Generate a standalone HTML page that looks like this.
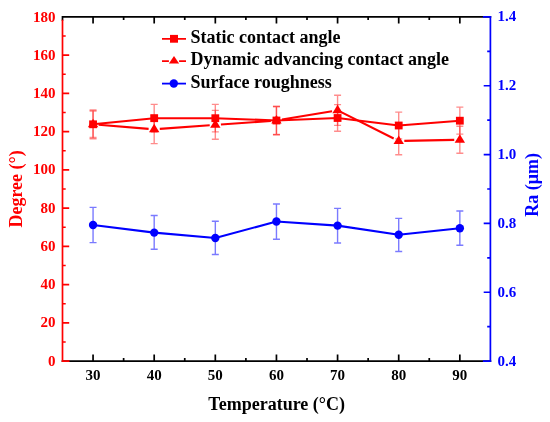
<!DOCTYPE html>
<html><head><meta charset="utf-8"><style>
html,body{margin:0;padding:0;background:#fff;width:550px;height:422px;overflow:hidden;position:relative}
</style></head><body>
<svg width="550" height="422" viewBox="0 0 550 422" style="position:absolute;left:0;top:0">
<rect width="550" height="422" fill="#fff"/>
<path d="M93.06 207.40V242.60M89.56 207.40H96.56M89.56 242.60H96.56" stroke="rgba(0,0,255,0.52)" stroke-width="1.4" fill="none"/>
<path d="M93.06 111.00V137.50M89.56 111.00H96.56M89.56 137.50H96.56" stroke="rgba(255,0,0,0.45)" stroke-width="1.4" fill="none"/>
<path d="M93.06 110.00V138.80M89.56 110.00H96.56M89.56 138.80H96.56" stroke="rgba(255,0,0,0.45)" stroke-width="1.4" fill="none"/>
<path d="M154.19 215.50V249.20M150.69 215.50H157.69M150.69 249.20H157.69" stroke="rgba(0,0,255,0.52)" stroke-width="1.4" fill="none"/>
<path d="M154.19 104.40V132.00M150.69 104.40H157.69M150.69 132.00H157.69" stroke="rgba(255,0,0,0.45)" stroke-width="1.4" fill="none"/>
<path d="M154.19 115.00V143.60M150.69 115.00H157.69M150.69 143.60H157.69" stroke="rgba(255,0,0,0.45)" stroke-width="1.4" fill="none"/>
<path d="M215.32 221.30V254.50M211.82 221.30H218.82M211.82 254.50H218.82" stroke="rgba(0,0,255,0.52)" stroke-width="1.4" fill="none"/>
<path d="M215.32 104.40V131.90M211.82 104.40H218.82M211.82 131.90H218.82" stroke="rgba(255,0,0,0.45)" stroke-width="1.4" fill="none"/>
<path d="M215.32 110.40V139.30M211.82 110.40H218.82M211.82 139.30H218.82" stroke="rgba(255,0,0,0.45)" stroke-width="1.4" fill="none"/>
<path d="M276.45 204.00V239.20M272.95 204.00H279.95M272.95 239.20H279.95" stroke="rgba(0,0,255,0.52)" stroke-width="1.4" fill="none"/>
<path d="M276.45 106.50V134.50M272.95 106.50H279.95M272.95 134.50H279.95" stroke="rgba(255,0,0,0.45)" stroke-width="1.4" fill="none"/>
<path d="M276.45 106.50V134.80M272.95 106.50H279.95M272.95 134.80H279.95" stroke="rgba(255,0,0,0.45)" stroke-width="1.4" fill="none"/>
<path d="M337.58 208.40V243.00M334.08 208.40H341.08M334.08 243.00H341.08" stroke="rgba(0,0,255,0.52)" stroke-width="1.4" fill="none"/>
<path d="M337.58 104.60V131.30M334.08 104.60H341.08M334.08 131.30H341.08" stroke="rgba(255,0,0,0.45)" stroke-width="1.4" fill="none"/>
<path d="M337.58 95.20V125.40M334.08 95.20H341.08M334.08 125.40H341.08" stroke="rgba(255,0,0,0.45)" stroke-width="1.4" fill="none"/>
<path d="M398.71 218.40V251.50M395.21 218.40H402.21M395.21 251.50H402.21" stroke="rgba(0,0,255,0.52)" stroke-width="1.4" fill="none"/>
<path d="M398.71 112.10V138.90M395.21 112.10H402.21M395.21 138.90H402.21" stroke="rgba(255,0,0,0.45)" stroke-width="1.4" fill="none"/>
<path d="M398.71 127.30V154.70M395.21 127.30H402.21M395.21 154.70H402.21" stroke="rgba(255,0,0,0.45)" stroke-width="1.4" fill="none"/>
<path d="M459.84 211.00V245.30M456.34 211.00H463.34M456.34 245.30H463.34" stroke="rgba(0,0,255,0.52)" stroke-width="1.4" fill="none"/>
<path d="M459.84 107.10V134.10M456.34 107.10H463.34M456.34 134.10H463.34" stroke="rgba(255,0,0,0.45)" stroke-width="1.4" fill="none"/>
<path d="M459.84 126.30V153.30M456.34 126.30H463.34M456.34 153.30H463.34" stroke="rgba(255,0,0,0.45)" stroke-width="1.4" fill="none"/>
<polyline points="93.06,124.30 154.19,118.20 215.32,118.20 276.45,120.50 337.58,118.00 398.71,125.50 459.84,120.70" stroke="#ff0000" stroke-width="2.1" fill="none" stroke-linejoin="round"/>
<path d="M98.65 124.76L148.61 128.84M159.78 128.89L209.74 125.26M220.91 124.45L270.86 120.90M281.97 119.58L332.05 111.22M340.71 111.87L393.70 138.49M404.31 140.89L454.24 139.91" stroke="#ff0000" stroke-width="2.1" fill="none"/>
<polyline points="93.06,225.00 154.19,232.60 215.32,238.00 276.45,221.50 337.58,225.60 398.71,234.80 459.84,228.30" stroke="#0000ff" stroke-width="2.1" fill="none" stroke-linejoin="round"/>
<rect x="89.16" y="120.40" width="7.8" height="7.8" fill="#ff0000"/>
<path d="M93.06 118.80L98.26 127.20L87.86 127.20Z" fill="#ff0000"/>
<circle cx="93.06" cy="225.00" r="4.2" fill="#0000ff"/>
<rect x="150.29" y="114.30" width="7.8" height="7.8" fill="#ff0000"/>
<path d="M154.19 123.80L159.39 132.20L148.99 132.20Z" fill="#ff0000"/>
<circle cx="154.19" cy="232.60" r="4.2" fill="#0000ff"/>
<rect x="211.42" y="114.30" width="7.8" height="7.8" fill="#ff0000"/>
<path d="M215.32 119.35L220.52 127.75L210.12 127.75Z" fill="#ff0000"/>
<circle cx="215.32" cy="238.00" r="4.2" fill="#0000ff"/>
<rect x="272.55" y="116.60" width="7.8" height="7.8" fill="#ff0000"/>
<path d="M276.45 115.00L281.65 123.40L271.25 123.40Z" fill="#ff0000"/>
<circle cx="276.45" cy="221.50" r="4.2" fill="#0000ff"/>
<rect x="333.68" y="114.10" width="7.8" height="7.8" fill="#ff0000"/>
<path d="M337.58 104.80L342.78 113.20L332.38 113.20Z" fill="#ff0000"/>
<circle cx="337.58" cy="225.60" r="4.2" fill="#0000ff"/>
<rect x="394.81" y="121.60" width="7.8" height="7.8" fill="#ff0000"/>
<path d="M398.71 135.50L403.91 143.90L393.51 143.90Z" fill="#ff0000"/>
<circle cx="398.71" cy="234.80" r="4.2" fill="#0000ff"/>
<rect x="455.94" y="116.80" width="7.8" height="7.8" fill="#ff0000"/>
<path d="M459.84 134.30L465.04 142.70L454.64 142.70Z" fill="#ff0000"/>
<circle cx="459.84" cy="228.30" r="4.2" fill="#0000ff"/>
<path d="M62.50 19.90V16.90H490.40" stroke="#000000" stroke-width="1.7" fill="none" stroke-linecap="square"/>
<path d="M61.65 361.10H491.25" stroke="#000000" stroke-width="1.7"/>
<path d="M62.50 19.70V361.95M61.65 361.10H69.50" stroke="#ff0000" stroke-width="1.7" fill="none"/>
<path d="M482.90 16.90H490.40V361.10H482.90" stroke="#0000ff" stroke-width="1.7" fill="none"/>
<path d="M93.06 361.10V354.40M93.06 16.90V23.60M123.63 361.10V357.90M123.63 16.90V20.10M154.19 361.10V354.40M154.19 16.90V23.60M184.76 361.10V357.90M184.76 16.90V20.10M215.32 361.10V354.40M215.32 16.90V23.60M245.89 361.10V357.90M245.89 16.90V20.10M276.45 361.10V354.40M276.45 16.90V23.60M307.01 361.10V357.90M307.01 16.90V20.10M337.58 361.10V354.40M337.58 16.90V23.60M368.14 361.10V357.90M368.14 16.90V20.10M398.71 361.10V354.40M398.71 16.90V23.60M429.27 361.10V357.90M429.27 16.90V20.10M459.84 361.10V354.40M459.84 16.90V23.60" stroke="#000000" stroke-width="1.7"/>
<path d="M62.50 341.98H65.70M62.50 322.86H69.20M62.50 303.73H65.70M62.50 284.61H69.20M62.50 265.49H65.70M62.50 246.37H69.20M62.50 227.24H65.70M62.50 208.12H69.20M62.50 189.00H65.70M62.50 169.88H69.20M62.50 150.76H65.70M62.50 131.63H69.20M62.50 112.51H65.70M62.50 93.39H69.20M62.50 74.27H65.70M62.50 55.14H69.20M62.50 36.02H65.70" stroke="#ff0000" stroke-width="1.7"/>
<path d="M490.40 326.68H487.20M490.40 292.26H483.70M490.40 257.84H487.20M490.40 223.42H483.70M490.40 189.00H487.20M490.40 154.58H483.70M490.40 120.16H487.20M490.40 85.74H483.70M490.40 51.32H487.20" stroke="#0000ff" stroke-width="1.7"/>
<g font-family="'Liberation Serif', 'Times New Roman', serif" font-weight="bold" font-size="15">
<text x="55.6" y="365.70" text-anchor="end" fill="#ff0000">0</text>
<text x="55.6" y="327.46" text-anchor="end" fill="#ff0000">20</text>
<text x="55.6" y="289.21" text-anchor="end" fill="#ff0000">40</text>
<text x="55.6" y="250.97" text-anchor="end" fill="#ff0000">60</text>
<text x="55.6" y="212.72" text-anchor="end" fill="#ff0000">80</text>
<text x="55.6" y="174.48" text-anchor="end" fill="#ff0000">100</text>
<text x="55.6" y="136.23" text-anchor="end" fill="#ff0000">120</text>
<text x="55.6" y="97.99" text-anchor="end" fill="#ff0000">140</text>
<text x="55.6" y="59.74" text-anchor="end" fill="#ff0000">160</text>
<text x="55.6" y="21.50" text-anchor="end" fill="#ff0000">180</text>
<text x="497.4" y="365.60" fill="#0000ff">0.4</text>
<text x="497.4" y="296.76" fill="#0000ff">0.6</text>
<text x="497.4" y="227.92" fill="#0000ff">0.8</text>
<text x="497.4" y="159.08" fill="#0000ff">1.0</text>
<text x="497.4" y="90.24" fill="#0000ff">1.2</text>
<text x="497.4" y="21.40" fill="#0000ff">1.4</text>
<text x="93.06" y="380.0" text-anchor="middle" fill="#000000">30</text>
<text x="154.19" y="380.0" text-anchor="middle" fill="#000000">40</text>
<text x="215.32" y="380.0" text-anchor="middle" fill="#000000">50</text>
<text x="276.45" y="380.0" text-anchor="middle" fill="#000000">60</text>
<text x="337.58" y="380.0" text-anchor="middle" fill="#000000">70</text>
<text x="398.71" y="380.0" text-anchor="middle" fill="#000000">80</text>
<text x="459.84" y="380.0" text-anchor="middle" fill="#000000">90</text>
</g>
<g font-family="'Liberation Serif', 'Times New Roman', serif" font-weight="bold" font-size="18">
<text x="276.7" y="410.2" text-anchor="middle" fill="#000000">Temperature (°C)</text>
<text transform="translate(21.7 188.9) rotate(-90)" text-anchor="middle" fill="#ff0000">Degree (°)</text>
<text transform="translate(538.4 184.9) rotate(-90)" text-anchor="middle" fill="#0000ff">Ra (μm)</text>
</g>
<path d="M162 38.9H186M162 61.1H168.9M179.1 61.1H186" stroke="#ff0000" stroke-width="1.8"/>
<path d="M162 83.6H186" stroke="#0000ff" stroke-width="1.8"/>
<rect x="170" y="34.9" width="8" height="7.8" fill="#ff0000"/>
<path d="M174 56L179.1 63.6L168.9 63.6Z" fill="#ff0000"/>
<circle cx="173.8" cy="83.5" r="4.2" fill="#0000ff"/>
<g font-family="'Liberation Serif', 'Times New Roman', serif" font-weight="bold" font-size="18" fill="#000000">
<text x="190.5" y="43">Static contact angle</text>
<text x="190.5" y="65.2">Dynamic advancing contact angle</text>
<text x="190.5" y="87.5">Surface roughness</text>
</g>
</svg>
</body></html>
